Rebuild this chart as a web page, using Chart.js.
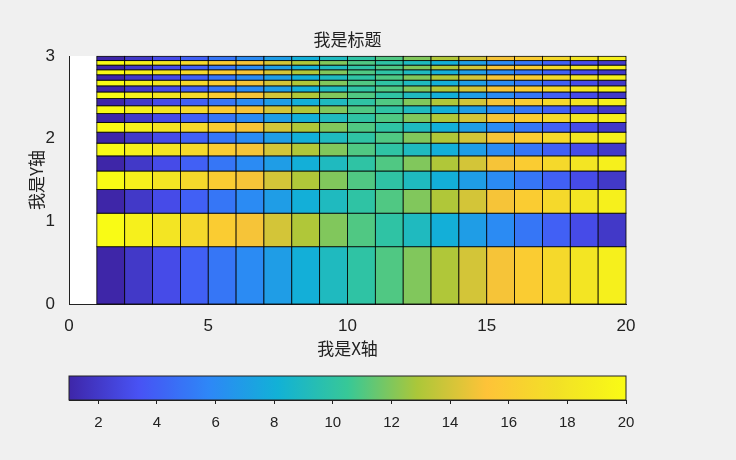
<!DOCTYPE html><html><head><meta charset="utf-8">
<script src="https://cdn.jsdelivr.net/npm/chart.js@4"></script>
<style>body{margin:0;background:#f0f0f0;width:736px;height:460px;overflow:hidden;font-family:"Noto Sans CJK SC"}
#a{position:absolute;left:0;top:0;width:736px;height:363px}#b{position:absolute;left:0;top:350px;width:736px;height:110px}</style></head><body>
<div id="a"><canvas id="c1"></canvas></div><div id="b"><canvas id="c2"></canvas></div>
<script>
const xEdges=[1,2,3,4,5,6,7,8,9,10,11,12,13,14,15,16,17,18,19,20];
const yEdges=[0,0.693,1.099,1.386,1.609,1.792,1.946,2.079,2.197,2.303,2.398,2.485,2.565,2.639,2.708,2.773,2.833,2.890,2.944,2.996];
const rowA=[1,2,3,4,5,6,7,8,9,10,11,12,13,14,15,16,17,18,19];
const rowB=[20,19,18,17,16,15,14,13,12,11,10,9,8,7,6,5,4,3,2];
const xTicks=[0,5,10,15,20], yTicks=[0,1,2,3], cbTicks=[2,4,6,8,10,12,14,16,18,20];
const cmin=1,cmax=20;
const stops=[[0.2422,0.1504,0.6603],[0.2810,0.3228,0.9579],[0.1786,0.5289,0.9682],[0.0689,0.6948,0.8394],[0.2161,0.7843,0.5923],[0.6720,0.7793,0.2227],[0.9970,0.7659,0.2199],[0.9500,0.8800,0.1500],[0.9769,0.9839,0.0805]];
function parula(t){t=Math.max(0,Math.min(1,t));const p=t*(stops.length-1),i=Math.min(Math.floor(p),stops.length-2),f=p-i;
 const c=stops[i].map((v,k)=>Math.round(255*(v+(stops[i+1][k]-v)*f)));return `rgb(${c[0]},${c[1]},${c[2]})`;}
const font={family:'"Liberation Sans", Arial, sans-serif',size:17};
const cjk={family:'"Noto Sans CJK SC", sans-serif',size:17};
const cells={id:'cells',beforeDatasetsDraw(ch){const {ctx,scales:{x,y}}=ch;ctx.save();
 for(let i=0;i<yEdges.length-1;i++){const row=i%2===0?rowA:rowB;
  for(let j=0;j<xEdges.length-1;j++){const x0=x.getPixelForValue(xEdges[j]),x1=x.getPixelForValue(xEdges[j+1]),y0=y.getPixelForValue(yEdges[i]),y1=y.getPixelForValue(yEdges[i+1]);
   ctx.fillStyle=parula((row[j]-cmin)/(cmax-cmin));ctx.fillRect(x0,y1,x1-x0,y0-y1);ctx.strokeStyle='#000';ctx.lineWidth=0.8;ctx.strokeRect(x0,y1,x1-x0,y0-y1);}}
 ctx.fillStyle='#222';ctx.font='17px "Noto Sans CJK SC"';ctx.textAlign='center';ctx.fillText('我是标题',(ch.chartArea.left+ch.chartArea.right)/2,46);ctx.restore();}};
const bg={id:'bg',beforeDraw(ch){const a=ch.chartArea,c=ch.ctx;c.save();c.fillStyle='#fff';c.fillRect(a.left,a.top,a.right-a.left,a.bottom-a.top);c.restore();}};
new Chart(document.getElementById('c1'),{type:'scatter',data:{datasets:[{data:[]}]},plugins:[bg,cells],
 options:{animation:false,responsive:true,maintainAspectRatio:false,layout:{padding:{top:56,right:110,left:26}},
 plugins:{legend:{display:false},tooltip:{enabled:false}},
 scales:{x:{type:'linear',min:0,max:20,afterBuildTicks:s=>{s.ticks=xTicks.map(v=>({value:v}))},afterFit:s=>{s.height=59},
  grid:{display:false},border:{color:'#222'},ticks:{color:'#222',font,padding:4,maxRotation:0},title:{display:true,text:'我是X轴',color:'#222',font:cjk,padding:{top:3}}},
  y:{min:0,max:3,afterBuildTicks:s=>{s.ticks=yTicks.map(v=>({value:v}))},afterFit:s=>{s.width=43},
  grid:{display:false},border:{color:'#222'},ticks:{color:'#222',font,padding:6},title:{display:true,text:'我是Y轴',color:'#222',font:cjk,padding:0}}}}});
const grad={id:'grad',beforeDatasetsDraw(ch){const a=ch.chartArea,c=ch.ctx,x=ch.scales.x;c.save();
 const g=c.createLinearGradient(a.left,0,a.right,0);for(let k=0;k<=40;k++){const v=cmin+(cmax-cmin)*k/40;g.addColorStop((x.getPixelForValue(v)-a.left)/(a.right-a.left),parula(k/40));}
 c.fillStyle=g;c.fillRect(a.left,a.top,a.right-a.left,a.bottom-a.top);c.strokeStyle='#222';c.lineWidth=1;c.strokeRect(a.left,a.top,a.right-a.left,a.bottom-a.top);c.restore();}};
new Chart(document.getElementById('c2'),{type:'scatter',data:{datasets:[{data:[]}]},plugins:[grad],
 options:{animation:false,responsive:true,maintainAspectRatio:false,layout:{padding:{top:26,left:69,right:110}},
 plugins:{legend:{display:false},tooltip:{enabled:false}},
 scales:{x:{type:'linear',min:cmin,max:cmax,afterBuildTicks:s=>{s.ticks=cbTicks.map(v=>({value:v}))},afterFit:s=>{s.height=60},
  grid:{display:true,drawOnChartArea:false,tickLength:4,color:'#222'},border:{color:'#222'},ticks:{color:'#222',padding:10,font:{family:'"Liberation Sans", Arial, sans-serif',size:15},maxRotation:0}},
  y:{display:false,min:0,max:1}}}});
</script></body></html>
